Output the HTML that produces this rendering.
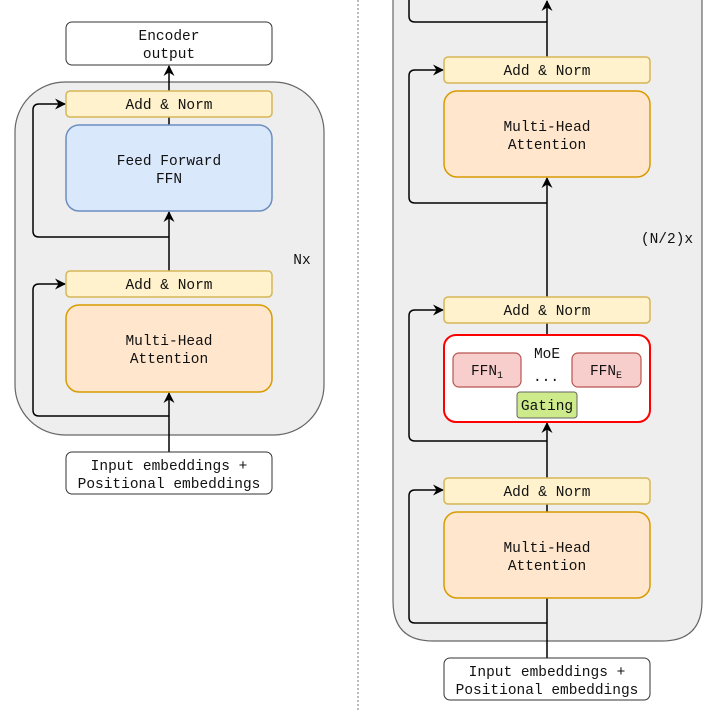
<!DOCTYPE html>
<html><head><style>
html,body{margin:0;padding:0;background:#fff;}
svg{display:block;}
text{font-family:"Liberation Mono","DejaVu Sans Mono",monospace;font-size:14.5px;fill:#111;text-anchor:middle;}
</style></head><body>
<svg width="718" height="722" viewBox="0 0 718 722" xmlns="http://www.w3.org/2000/svg">
<defs>
<marker id="a" markerWidth="12" markerHeight="12" refX="10" refY="6" orient="auto" markerUnits="userSpaceOnUse">
<path d="M0,0.5 L11,6 L0,11.5 L3.5,6 Z" fill="#000"/></marker>
</defs>
<!-- LEFT -->
<rect x="15" y="82" width="309" height="353" rx="50" fill="#eeeeee" stroke="#666" stroke-width="1.2"/>
<rect x="66" y="22" width="206" height="43" rx="6" fill="#fff" stroke="#333"/>
<text x="169" y="40">Encoder</text><text x="169" y="58">output</text>
<line x1="169" y1="91" x2="169" y2="66" stroke="#000" stroke-width="1.5" marker-end="url(#a)"/>
<line x1="169" y1="452" x2="169" y2="393" stroke="#000" stroke-width="1.5" marker-end="url(#a)"/>
<line x1="169" y1="297" x2="169" y2="212" stroke="#000" stroke-width="1.5" marker-end="url(#a)"/>
<line x1="169" y1="117" x2="169" y2="125" stroke="#000" stroke-width="1.5"/>
<path d="M169,237 H39 Q33,237 33,231 V110 Q33,104 39,104 H65" fill="none" stroke="#000" stroke-width="1.5" marker-end="url(#a)"/>
<path d="M169,416 H39 Q33,416 33,410 V290 Q33,284 39,284 H65" fill="none" stroke="#000" stroke-width="1.5" marker-end="url(#a)"/>
<rect x="66" y="91" width="206" height="26" rx="4" fill="#fff2cc" stroke="#d6b656" stroke-width="1.5"/>
<text x="169" y="109">Add &amp; Norm</text>
<rect x="66" y="125" width="206" height="86" rx="13" fill="#dae8fc" stroke="#6c8ebf" stroke-width="1.5"/>
<text x="169" y="165">Feed Forward</text><text x="169" y="183">FFN</text>
<rect x="66" y="271" width="206" height="26" rx="4" fill="#fff2cc" stroke="#d6b656" stroke-width="1.5"/>
<text x="169" y="289">Add &amp; Norm</text>
<rect x="66" y="305" width="206" height="87" rx="13" fill="#ffe6cc" stroke="#d79b00" stroke-width="1.5"/>
<text x="169" y="345">Multi-Head</text><text x="169" y="363">Attention</text>
<text x="302" y="264">Nx</text>
<rect x="66" y="452" width="206" height="42" rx="6" fill="#fff" stroke="#333"/>
<text x="169" y="470">Input embeddings +</text><text x="169" y="488">Positional embeddings</text>
<!-- divider -->
<line x1="358" y1="0" x2="358" y2="712" stroke="#777" stroke-width="1" stroke-dasharray="2,2"/>
<!-- RIGHT -->
<path d="M393,-10 V601 Q393,641 433,641 H662 Q702,641 702,601 V-10" fill="#eeeeee" stroke="#666" stroke-width="1.2"/>
<line x1="547" y1="658" x2="547" y2="423" stroke="#000" stroke-width="1.5" marker-end="url(#a)"/>
<line x1="547" y1="335" x2="547" y2="323" stroke="#000" stroke-width="1.5"/>
<line x1="547" y1="297" x2="547" y2="178" stroke="#000" stroke-width="1.5" marker-end="url(#a)"/>
<line x1="547" y1="57" x2="547" y2="1" stroke="#000" stroke-width="1.5" marker-end="url(#a)"/>
<path d="M547,22 H415 Q409,22 409,16 V0" fill="none" stroke="#000" stroke-width="1.5"/>
<path d="M547,203 H415 Q409,203 409,197 V76 Q409,70 415,70 H443" fill="none" stroke="#000" stroke-width="1.5" marker-end="url(#a)"/>
<path d="M547,441 H415 Q409,441 409,435 V316 Q409,310 415,310 H443" fill="none" stroke="#000" stroke-width="1.5" marker-end="url(#a)"/>
<path d="M547,623 H415 Q409,623 409,617 V496 Q409,490 415,490 H443" fill="none" stroke="#000" stroke-width="1.5" marker-end="url(#a)"/>
<rect x="444" y="57" width="206" height="26" rx="4" fill="#fff2cc" stroke="#d6b656" stroke-width="1.5"/>
<text x="547" y="75">Add &amp; Norm</text>
<rect x="444" y="91" width="206" height="86" rx="13" fill="#ffe6cc" stroke="#d79b00" stroke-width="1.5"/>
<text x="547" y="131">Multi-Head</text><text x="547" y="149">Attention</text>
<text x="667" y="243">(N/2)x</text>
<rect x="444" y="297" width="206" height="26" rx="4" fill="#fff2cc" stroke="#d6b656" stroke-width="1.5"/>
<text x="547" y="315">Add &amp; Norm</text>
<rect x="444" y="335" width="206" height="87" rx="12" fill="#fff" stroke="#ff0000" stroke-width="2"/>
<text x="547" y="358">MoE</text>
<rect x="453" y="353" width="68" height="34" rx="6" fill="#f8cecc" stroke="#b85450" stroke-width="1.2"/>
<text x="487" y="375">FFN<tspan style="font-size:10px" dy="3">1</tspan></text>
<text x="546" y="381">...</text>
<rect x="572" y="353" width="69" height="34" rx="6" fill="#f8cecc" stroke="#b85450" stroke-width="1.2"/>
<text x="606" y="375">FFN<tspan style="font-size:10px" dy="3">E</tspan></text>
<rect x="517" y="392" width="60" height="26" rx="3" fill="#cdeb8b" stroke="#666" stroke-width="1"/>
<text x="547" y="410">Gating</text>
<rect x="444" y="478" width="206" height="26" rx="4" fill="#fff2cc" stroke="#d6b656" stroke-width="1.5"/>
<text x="547" y="496">Add &amp; Norm</text>
<rect x="444" y="512" width="206" height="86" rx="13" fill="#ffe6cc" stroke="#d79b00" stroke-width="1.5"/>
<text x="547" y="552">Multi-Head</text><text x="547" y="570">Attention</text>
<rect x="444" y="658" width="206" height="42" rx="6" fill="#fff" stroke="#333"/>
<text x="547" y="676">Input embeddings +</text><text x="547" y="694">Positional embeddings</text>
</svg>
</body></html>
